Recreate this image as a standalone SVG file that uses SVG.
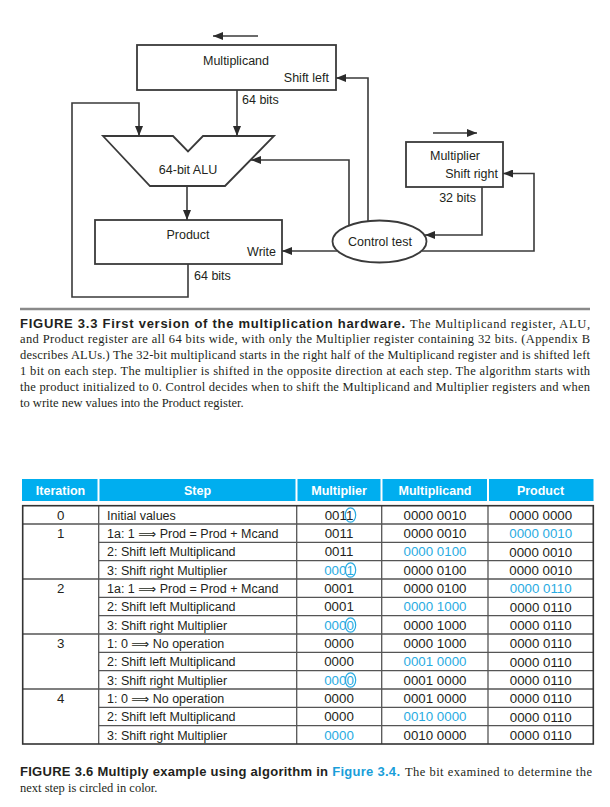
<svg xmlns="http://www.w3.org/2000/svg" width="610" height="807" viewBox="0 0 610 807">
<defs>
<marker id="ah" viewBox="0 0 10 8" refX="10" refY="4" markerWidth="10" markerHeight="8" markerUnits="userSpaceOnUse" orient="auto">
<path d="M0,0 L10,4 L0,8 z" fill="#2b2b2b"/>
</marker>
<style>
.box{fill:#fff;stroke:#3a3a3a;stroke-width:1.8}
.ln{fill:none;stroke:#3a3a3a;stroke-width:1.6}
.t{font-family:"Liberation Sans",Arial,sans-serif;font-size:12.5px;fill:#231f20}
.c{text-anchor:middle}
.r{text-anchor:end}
.hd{fill:#00aeef}
.ht{font-family:"Liberation Sans",Arial,sans-serif;font-size:12.5px;font-weight:bold;fill:#fff;text-anchor:middle}
.tt{font-family:"Liberation Sans","DejaVu Sans",sans-serif;font-size:12.5px;fill:#231f20}
.n{font-size:13.3px}
.b{fill:#29abe2}
.g{stroke:#555;stroke-width:1.3}
.o{fill:none;stroke:#333;stroke-width:1.6}
.circ{fill:none;stroke:#29abe2;stroke-width:1.2}
.cap{font-family:"Liberation Serif","Times New Roman",serif;font-size:12.5px;fill:#231f20}
.capb{font-family:"Liberation Sans",Arial,sans-serif;font-weight:bold;font-size:13px;fill:#231f20}
</style>
</defs>

<g id="multiplicand">
<rect class="box" x="137" y="45" width="199" height="45"/>
<line class="ln" x1="258" y1="36" x2="213" y2="36" marker-end="url(#ah)"/>
<text class="t c" x="236" y="65">Multiplicand</text>
<text class="t r" x="329" y="82">Shift left</text>
</g>

<g id="alu">
<polygon class="box" points="103,136 173,136 188,151.5 203,136 274,136 225,186 150,186"/>
<text class="t c" x="188" y="174">64-bit ALU</text>
</g>

<g id="product">
<rect class="box" x="95" y="220" width="187" height="44"/>
<text class="t c" x="188" y="239">Product</text>
<text class="t r" x="276" y="256">Write</text>
</g>

<g id="multiplier">
<rect class="box" x="406" y="142" width="97" height="45"/>
<line class="ln" x1="433" y1="133" x2="477" y2="133" marker-end="url(#ah)"/>
<text class="t c" x="455" y="160">Multiplier</text>
<text class="t r" x="498" y="178">Shift right</text>
</g>

<g id="control">
<ellipse class="box" cx="379.5" cy="241.5" rx="47" ry="21"/>
<text class="t c" x="380" y="246">Control test</text>
</g>

<g id="connectors">
<line class="ln" x1="237" y1="90" x2="237" y2="136" marker-end="url(#ah)"/>
<path class="ln" d="M188,264 V297 H72 V103 H139 V136" marker-end="url(#ah)"/>
<line class="ln" x1="187" y1="186" x2="187" y2="220" marker-end="url(#ah)"/>
<path class="ln" d="M368,221 V78 H336" marker-end="url(#ah)"/>
<path class="ln" d="M349,226 V160 H251" marker-end="url(#ah)"/>
<line class="ln" x1="337" y1="251" x2="282" y2="251" marker-end="url(#ah)"/>
<path class="ln" d="M422,251 H534 V173.5 H503" marker-end="url(#ah)"/>
<path class="ln" d="M482,187 V235 H425" marker-end="url(#ah)"/>
<text class="t" x="242" y="104">64 bits</text>
<text class="t" x="194" y="280">64 bits</text>
<text class="t r" x="476" y="202">32 bits</text>
</g>

<g id="caption1">
<line x1="20" y1="309" x2="590" y2="309" stroke="#8a8a8a" stroke-width="2.5"/>
<text class="capb" x="20" y="328" textLength="385" lengthAdjust="spacing">FIGURE 3.3  First version of the multiplication hardware.</text>
<text class="cap" x="410" y="328" textLength="180" lengthAdjust="spacing">The Multiplicand register, ALU,</text>
<text class="cap" x="20" y="343" textLength="570" lengthAdjust="spacing">and Product register are all 64 bits wide, with only the Multiplier register containing 32 bits. (Appendix B</text>
<text class="cap" x="20" y="359" textLength="570" lengthAdjust="spacing">describes ALUs.) The 32-bit multiplicand starts in the right half of the Multiplicand register and is shifted left</text>
<text class="cap" x="20" y="375" textLength="570" lengthAdjust="spacing">1 bit on each step. The multiplier is shifted in the opposite direction at each step. The algorithm starts with</text>
<text class="cap" x="20" y="391" textLength="570" lengthAdjust="spacing">the product initialized to 0. Control decides when to shift the Multiplicand and Multiplier registers and when</text>
<text class="cap" x="20" y="407">to write new values into the Product register.</text>
</g>

<g id="table">
<rect class="hd" x="22" y="479" width="571.5" height="22"/>
<g stroke="#fff" stroke-width="2">
<line x1="98.5" y1="479" x2="98.5" y2="501"/>
<line x1="296.5" y1="479" x2="296.5" y2="501"/>
<line x1="381.5" y1="479" x2="381.5" y2="501"/>
<line x1="488" y1="479" x2="488" y2="501"/>
</g>
<text class="ht" x="60.5" y="495">Iteration</text>
<text class="ht" x="197.5" y="495">Step</text>
<text class="ht" x="339" y="495">Multiplier</text>
<text class="ht" x="435" y="495">Multiplicand</text>
<text class="ht" x="540.5" y="495">Product</text>

<g class="g">
<line x1="22.7" y1="524" x2="593.3" y2="524"/>
<line x1="98.7" y1="542.4" x2="593.3" y2="542.4"/>
<line x1="98.7" y1="560.7" x2="593.3" y2="560.7"/>
<line x1="22.7" y1="579" x2="593.3" y2="579"/>
<line x1="98.7" y1="597.4" x2="593.3" y2="597.4"/>
<line x1="98.7" y1="615.7" x2="593.3" y2="615.7"/>
<line x1="22.7" y1="634" x2="593.3" y2="634"/>
<line x1="98.7" y1="652.3" x2="593.3" y2="652.3"/>
<line x1="98.7" y1="670.7" x2="593.3" y2="670.7"/>
<line x1="22.7" y1="689" x2="593.3" y2="689"/>
<line x1="98.7" y1="707.3" x2="593.3" y2="707.3"/>
<line x1="98.7" y1="725.7" x2="593.3" y2="725.7"/>
<line x1="98.7" y1="505.7" x2="98.7" y2="744"/>
<line x1="296.7" y1="505.7" x2="296.7" y2="744"/>
<line x1="381.7" y1="505.7" x2="381.7" y2="744"/>
<line x1="488" y1="505.7" x2="488" y2="744"/>
</g>
<rect class="o" x="22.7" y="505.7" width="570.6" height="238.3"/>

<g class="tt">
<text class="c n" x="60.7" y="519.5">0</text>
<text class="c n" x="60.7" y="537.8">1</text>
<text class="c n" x="60.7" y="592.8">2</text>
<text class="c n" x="60.7" y="647.8">3</text>
<text class="c n" x="60.7" y="702.8">4</text>

<text x="107" y="519.5">Initial values</text>
<text x="107" y="537.8">1a:  1 ⟹ Prod = Prod + Mcand</text>
<text x="107" y="556.2">2:  Shift left Multiplicand</text>
<text x="107" y="574.5">3:  Shift right Multiplier</text>
<text x="107" y="592.8">1a:  1 ⟹ Prod = Prod + Mcand</text>
<text x="107" y="611.2">2:  Shift left Multiplicand</text>
<text x="107" y="629.5">3:  Shift right Multiplier</text>
<text x="107" y="647.8">1:  0 ⟹ No operation</text>
<text x="107" y="666.2">2:  Shift left Multiplicand</text>
<text x="107" y="684.5">3:  Shift right Multiplier</text>
<text x="107" y="702.8">1:  0 ⟹ No operation</text>
<text x="107" y="721.2">2:  Shift left Multiplicand</text>
<text x="107" y="739.5">3:  Shift right Multiplier</text>

<text class="c n" x="339" y="519.5">0011</text>
<text class="c n" x="339" y="537.8">0011</text>
<text class="c n" x="339" y="556.2">0011</text>
<text class="c n b" x="339" y="574.5">0001</text>
<text class="c n" x="339" y="592.8">0001</text>
<text class="c n" x="339" y="611.2">0001</text>
<text class="c n b" x="339" y="629.5">0000</text>
<text class="c n" x="339" y="647.8">0000</text>
<text class="c n" x="339" y="666.2">0000</text>
<text class="c n b" x="339" y="684.5">0000</text>
<text class="c n" x="339" y="702.8">0000</text>
<text class="c n" x="339" y="721.2">0000</text>
<text class="c n b" x="339" y="739.5">0000</text>

<text class="c n" x="435" y="519.5">0000 0010</text>
<text class="c n" x="435" y="537.8">0000 0010</text>
<text class="c n b" x="435" y="556.2">0000 0100</text>
<text class="c n" x="435" y="574.5">0000 0100</text>
<text class="c n" x="435" y="592.8">0000 0100</text>
<text class="c n b" x="435" y="611.2">0000 1000</text>
<text class="c n" x="435" y="629.5">0000 1000</text>
<text class="c n" x="435" y="647.8">0000 1000</text>
<text class="c n b" x="435" y="666.2">0001 0000</text>
<text class="c n" x="435" y="684.5">0001 0000</text>
<text class="c n" x="435" y="702.8">0001 0000</text>
<text class="c n b" x="435" y="721.2">0010 0000</text>
<text class="c n" x="435" y="739.5">0010 0000</text>

<text class="c n" x="540.7" y="520">0000 0000</text>
<text class="c n b" x="540.7" y="538.3">0000 0010</text>
<text class="c n" x="540.7" y="556.7">0000 0010</text>
<text class="c n" x="540.7" y="575">0000 0010</text>
<text class="c n b" x="540.7" y="593.3">0000 0110</text>
<text class="c n" x="540.7" y="611.7">0000 0110</text>
<text class="c n" x="540.7" y="630">0000 0110</text>
<text class="c n" x="540.7" y="648.3">0000 0110</text>
<text class="c n" x="540.7" y="666.7">0000 0110</text>
<text class="c n" x="540.7" y="685">0000 0110</text>
<text class="c n" x="540.7" y="703.3">0000 0110</text>
<text class="c n" x="540.7" y="721.7">0000 0110</text>
<text class="c n" x="540.7" y="740">0000 0110</text>
</g>
<ellipse class="circ" cx="350.5" cy="515" rx="5.2" ry="7.2"/>
<ellipse class="circ" cx="350.5" cy="570" rx="5.2" ry="7.2"/>
<ellipse class="circ" cx="350.5" cy="625" rx="5.2" ry="7.2"/>
<ellipse class="circ" cx="350.5" cy="680" rx="5.2" ry="7.2"/>
</g>

<g id="caption2">
<text class="capb" x="20" y="776" textLength="380" lengthAdjust="spacing">FIGURE 3.6  Multiply example using algorithm in <tspan fill="#1a9ed9">Figure 3.4.</tspan></text>
<text class="cap" x="405" y="776" textLength="187" lengthAdjust="spacing">The bit examined to determine the</text>
<text class="cap" x="20" y="792">next step is circled in color.</text>
</g>
</svg>
